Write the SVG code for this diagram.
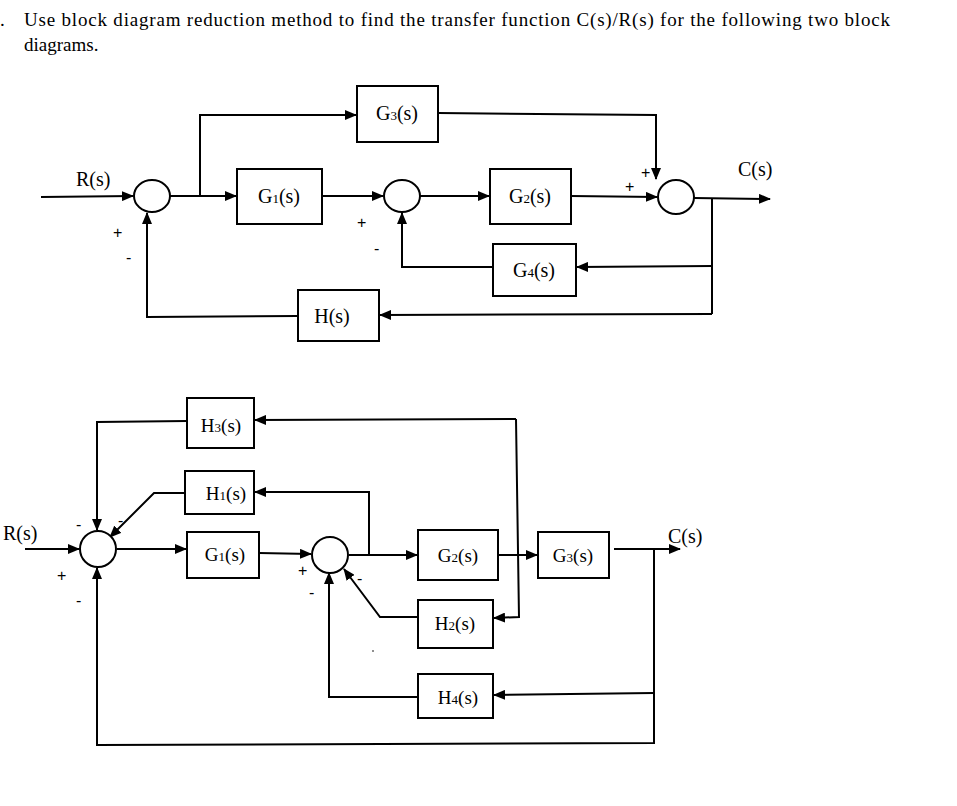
<svg xmlns="http://www.w3.org/2000/svg" width="957" height="806" viewBox="0 0 957 806">
<defs>
<marker id="a" markerWidth="12" markerHeight="10" refX="11" refY="5" orient="auto" markerUnits="userSpaceOnUse"><path d="M0,0 L12,5 L0,10 z" fill="#000"/></marker>
<style>
.t{font-family:"Liberation Serif",serif;font-size:19px;fill:#000}
.b{font-family:"Liberation Serif",serif;font-size:20px;fill:#000}
.s{font-size:13px}
.g{font-family:"Liberation Sans",sans-serif;font-size:16px;fill:#000}
rect{fill:#fff;stroke:#000;stroke-width:2}
ellipse{fill:#fff;stroke:#000;stroke-width:2}
#c path{fill:none;stroke:#000;stroke-width:2}
</style>
</defs>
<rect x="0" y="0" width="957" height="806" style="stroke:none"/>
<text class="t" x="0" y="26">.</text>
<text class="t" x="24" y="26" textLength="866" lengthAdjust="spacing">Use block diagram reduction method to find the transfer function C(s)/R(s) for the following two block</text>
<text class="t" x="24" y="51">diagrams.</text>
<g id="c">
<path d="M41,197 L133,196" marker-end="url(#a)"/>
<path d="M170,196 L236,196" marker-end="url(#a)"/>
<path d="M200,196 L200,115 L356,115" marker-end="url(#a)"/>
<path d="M322,196 L383,196" marker-end="url(#a)"/>
<path d="M420,196 L489,196" marker-end="url(#a)"/>
<path d="M571,196 L657,197" marker-end="url(#a)"/>
<path d="M438,113 L656,115 L656,179" marker-end="url(#a)"/>
<path d="M694,198 L770,199" marker-end="url(#a)"/>
<path d="M712,198 L712,314"/>
<path d="M712,266 L577,267" marker-end="url(#a)"/>
<path d="M493,267 L402,267 L402,213" marker-end="url(#a)"/>
<path d="M712,314 L380,315" marker-end="url(#a)"/>
<path d="M298,316 L147,317 L147,213" marker-end="url(#a)"/>
<path d="M25,549 L79,549" marker-end="url(#a)"/>
<path d="M117,549 L186,549" marker-end="url(#a)"/>
<path d="M259,553 L311,554" marker-end="url(#a)"/>
<path d="M349,555 L417,555" marker-end="url(#a)"/>
<path d="M498,555 L537,555" marker-end="url(#a)"/>
<path d="M614,549 L680,549" marker-end="url(#a)"/>
<path d="M369,555 L369,492 L255,492" marker-end="url(#a)"/>
<path d="M185,493 L154,493 L110,537" marker-end="url(#a)"/>
<path d="M516,419 L255,420" marker-end="url(#a)"/>
<path d="M187,421 L97,422 L97,530" marker-end="url(#a)"/>
<path d="M516,419 L519,617 L494,618" marker-end="url(#a)"/>
<path d="M418,617 L380,617 L344,569" marker-end="url(#a)"/>
<path d="M654,549 L654,743 L97,745 L97,568" marker-end="url(#a)"/>
<path d="M654,693 L494,695" marker-end="url(#a)"/>
<path d="M418,697 L329,697 L329,573" marker-end="url(#a)"/>
</g>
<g id="sum1"><ellipse cx="152" cy="196" rx="18" ry="16"/></g>
<g id="sum2"><ellipse cx="402" cy="196" rx="18" ry="16"/></g>
<g id="sum3"><ellipse cx="676" cy="197" rx="18" ry="17"/></g>
<g id="sumA"><ellipse cx="98" cy="549" rx="18" ry="18"/></g>
<g id="sumB"><ellipse cx="330" cy="555" rx="18" ry="18"/></g>
<g id="G3"><rect x="357" y="86" width="81" height="56"/><text class="b" x="397" y="120" text-anchor="middle">G<tspan class="s">3</tspan>(s)</text></g>
<g id="G1"><rect x="237" y="169" width="85" height="55"/><text class="b" x="279" y="203" text-anchor="middle">G<tspan class="s">1</tspan>(s)</text></g>
<g id="G2"><rect x="490" y="169" width="81" height="55"/><text class="b" x="530" y="203" text-anchor="middle">G<tspan class="s">2</tspan>(s)</text></g>
<g id="G4"><rect x="493" y="244" width="83" height="52"/><text class="b" x="534" y="277" text-anchor="middle">G<tspan class="s">4</tspan>(s)</text></g>
<g id="H"><rect x="298" y="290" width="81" height="51"/><text class="b" x="332" y="323" text-anchor="middle">H(s)</text></g>
<g id="H3"><rect x="187" y="398" width="67" height="50"/><text class="t" x="221" y="432" text-anchor="middle">H<tspan class="s">3</tspan>(s)</text></g>
<g id="H1"><rect x="185" y="471" width="69" height="43"/><text class="t" x="226" y="500" text-anchor="middle">H<tspan class="s">1</tspan>(s)</text></g>
<g id="bG1"><rect x="187" y="532" width="72" height="46"/><text class="t" x="225" y="561" text-anchor="middle">G<tspan class="s">1</tspan>(s)</text></g>
<g id="bG2"><rect x="418" y="530" width="80" height="50"/><text class="t" x="458" y="562" text-anchor="middle">G<tspan class="s">2</tspan>(s)</text></g>
<g id="bG3"><rect x="538" y="532" width="71" height="46"/><text class="t" x="573" y="562" text-anchor="middle">G<tspan class="s">3</tspan>(s)</text></g>
<g id="H2"><rect x="418" y="600" width="75" height="48"/><text class="t" x="455" y="630" text-anchor="middle">H<tspan class="s">2</tspan>(s)</text></g>
<g id="H4"><rect x="418" y="674" width="75" height="44"/><text class="t" x="458" y="704" text-anchor="middle">H<tspan class="s">4</tspan>(s)</text></g>
<g id="labels">
<text class="b" x="76" y="186">R(s)</text>
<text class="b" x="738" y="176">C(s)</text>
<text class="g" x="113" y="238">+</text>
<text class="g" x="126" y="263">-</text>
<text class="g" x="357" y="228">+</text>
<text class="g" x="374" y="254">-</text>
<text class="g" x="625" y="192">+</text>
<text class="g" x="641" y="178">+</text>
<text class="b" x="3" y="540">R(s)</text>
<text class="b" x="668" y="543">C(s)</text>
<text class="g" x="76" y="530">-</text>
<text class="g" x="118" y="526">-</text>
<text class="g" x="57" y="581">+</text>
<text class="g" x="76" y="606">-</text>
<text class="g" x="298" y="576">+</text>
<text class="g" x="309" y="598">-</text>
<text class="g" x="357" y="584">-</text>
<circle cx="373" cy="651" r="0.8" fill="#000"/>
</g>
</svg>
